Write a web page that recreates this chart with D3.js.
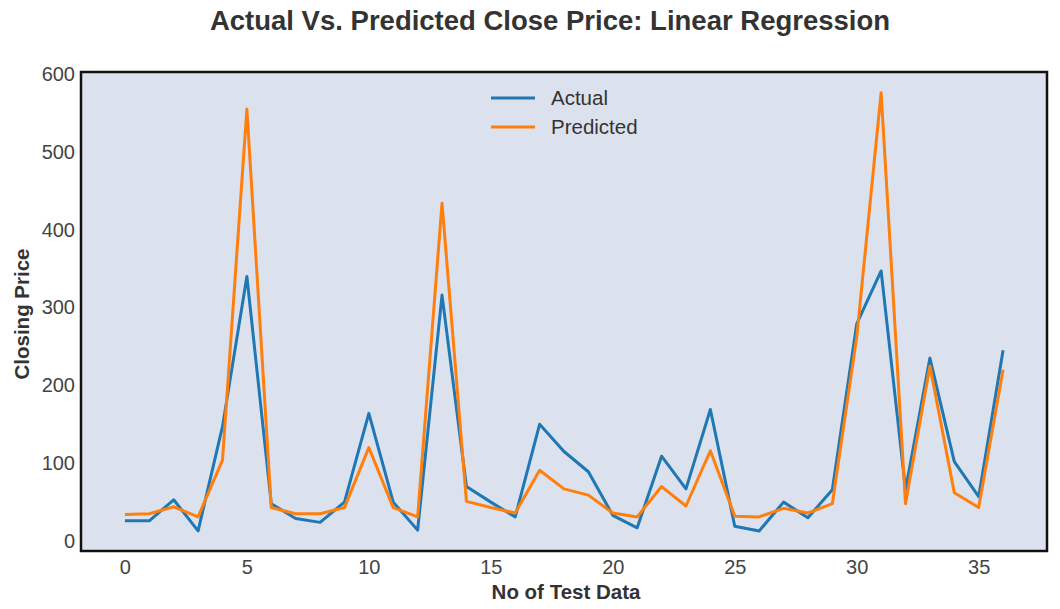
<!DOCTYPE html>
<html><head><meta charset="utf-8">
<script src="https://cdn.jsdelivr.net/npm/d3@7"></script>
<style>body{margin:0;background:#fff;font-family:"Liberation Sans",Arial,sans-serif;}</style>
</head><body><svg id="c" width="1060" height="609"></svg>
<script>
const indices = d3.range(37);
const actual = [26,26,53,13,147,340,48,29,24,50,164,50,14,316,70,50,31,150,115,89,33,17,109,67,169,19,13,50,30,66,279,347,66,235,102,57,245];
const predicted = [34,35,44,31,104,555,43,35,35,43,120,43,31,434,51,43,36,91,67,59,36,31,70,45,116,32,31,42,36,48,262,576,48,225,62,43,220];
const xTicks = [0,5,10,15,20,25,30,35];
const yTicks = [0,100,200,300,400,500,600];
const seriesNames = ["Actual","Predicted"];
const colors = ["#1f77b4","#ff7f0e"];

const svg = d3.select("#c");
const L=81,T=72,R=1047,B=551;
const x = d3.scaleLinear().domain([-1.8,37.8]).range([L,R]);
const y = d3.scaleLinear().domain([-12.8,602.6]).range([B,T]);

svg.append("rect").attr("x",L).attr("y",T).attr("width",R-L).attr("height",B-T).attr("fill","#dce2ed");

const xa = svg.append("g").attr("transform",`translate(0,${B})`).call(d3.axisBottom(x).tickValues(xTicks).tickSize(0).tickPadding(9));
const ya = svg.append("g").attr("transform",`translate(${L},0)`).call(d3.axisLeft(y).tickValues(yTicks).tickSize(0).tickPadding(6));
[xa,ya].forEach(a=>{a.select(".domain").remove();a.selectAll("text").attr("font-family","Liberation Sans, Arial, sans-serif").attr("font-size",20).attr("fill","#444");});

const line = d3.line().x((d,i)=>x(indices[i])).y(d=>y(d));
[actual,predicted].forEach((s,k)=>{
  svg.append("path").attr("d",line(s)).attr("fill","none").attr("stroke",colors[k]).attr("stroke-width",3).attr("stroke-linejoin","round");
});

svg.append("rect").attr("x",L).attr("y",T).attr("width",R-L).attr("height",B-T).attr("fill","none").attr("stroke","#111").attr("stroke-width",2.5);

svg.append("text").attr("x",550).attr("y",30).attr("text-anchor","middle").attr("font-size",27.5).attr("font-weight","bold").attr("fill","#333").text("Actual Vs. Predicted Close Price: Linear Regression");
svg.append("text").attr("x",566).attr("y",599).attr("text-anchor","middle").attr("font-size",20.5).attr("font-weight","bold").attr("fill","#333").text("No of Test Data");
svg.append("text").attr("transform","translate(29,314) rotate(-90)").attr("text-anchor","middle").attr("font-size",20.5).attr("font-weight","bold").attr("fill","#333").text("Closing Price");

seriesNames.forEach((n,k)=>{
  const yy = 98 + k*29;
  svg.append("line").attr("x1",491).attr("x2",535).attr("y1",yy).attr("y2",yy).attr("stroke",colors[k]).attr("stroke-width",3);
  svg.append("text").attr("x",551).attr("y",yy+7).attr("font-size",20.5).attr("fill","#333").text(n);
});
</script></body></html>
